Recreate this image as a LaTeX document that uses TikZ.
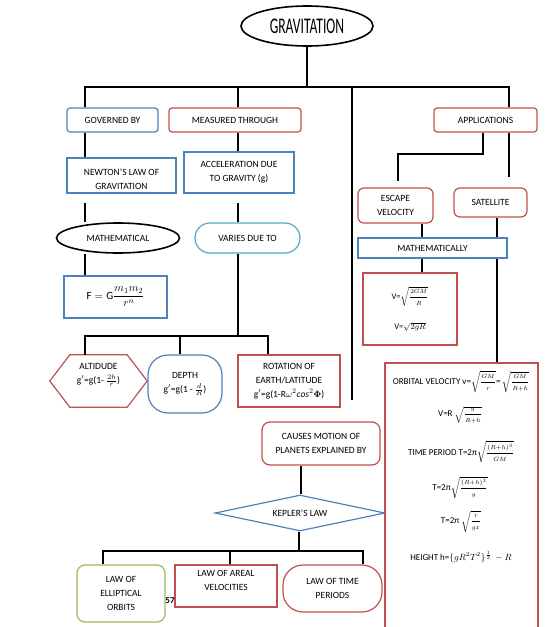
\documentclass[tikz,border=0pt]{standalone}
\usepackage{amsmath}
\usepackage{fontspec}
\setmainfont{Carlito}
\usetikzlibrary{calc,shapes.geometric}
\definecolor{redb}{RGB}{192,80,77}
\definecolor{blueb}{RGB}{79,129,189}
\definecolor{tealb}{RGB}{75,172,198}
\definecolor{greenb}{RGB}{155,187,89}
\newcommand\sfr[2]{\dfrac{\scriptstyle #1}{\scriptstyle #2}}
\begin{document}
\begin{tikzpicture}[x=1pt,y=-1pt,
  conn/.style={line width=2.6pt},
  lbl/.style={font=\fontsize{9.5}{14}\selectfont, align=center, inner sep=1pt},
  box/.style={lbl, draw, line width=1.2pt, fill=white},
  rbox/.style={box, draw=redb},
  bbox/.style={box, draw=blueb},
  oval/.style={lbl, ellipse, draw=black, line width=1.6pt, fill=white, inner sep=0pt},
  frm/.style={font=\fontsize{9}{12}\selectfont, inner sep=1pt},
]
\useasboundingbox (0,0) rectangle (555,627);
\clip (0,0) rectangle (555,627);

% ---------- nodes ----------
\node[oval, minimum width=132pt, minimum height=40pt] (grav) at (307,26)
  {\scalebox{0.97}[1.6]{\fontsize{14}{14}\selectfont GRAVITATION}};
\node[bbox, rounded corners=3pt, minimum width=91pt, minimum height=24pt] (gov) at (112.5,120) {GOVERNED BY};
\node[rbox, rounded corners=3pt, minimum width=132pt, minimum height=24pt] (meas) at (235,120) {MEASURED THROUGH};
\node[rbox, rounded corners=3pt, minimum width=103pt, minimum height=24pt] (app) at (485.5,120) {APPLICATIONS};

\node[bbox, minimum width=109pt, minimum height=35pt] (newton) at (121.5,175.5) {};
\begin{scope}
  \clip (67,158) rectangle (176,190);
  \node[lbl] (newtontxt) at (121.5,179) {NEWTON'S LAW OF\\GRAVITATION};
\end{scope}
\node[bbox, minimum width=110pt, minimum height=41pt] (acc) at (239,172.5) {ACCELERATION DUE\\TO GRAVITY (g)};

\node[oval, minimum width=123pt, minimum height=30pt] (mathe) at (118,238) {MATHEMATICAL};
\node[box, draw=tealb, rounded corners=15pt, minimum width=105pt, minimum height=30pt] (varies) at (247.5,238) {VARIES DUE TO};
\node[bbox, minimum width=103pt, minimum height=42pt] (fbox) at (115.5,297)
  {\fontsize{11}{13}\selectfont $\mathrm{F}=\mathrm{G}\dfrac{m_1m_2}{r^n}$};

% altitude hexagon
\node[minimum width=97pt, minimum height=52pt, inner sep=0pt] (alt) at (98.5,381) {};
\draw[redb, line width=1.2pt, fill=white] (alt.west) -- ([xshift=20pt]alt.north west) -- ([xshift=-20pt]alt.north east)
  -- (alt.east) -- ([xshift=-20pt]alt.south east) -- ([xshift=20pt]alt.south west) -- cycle;
\node[lbl] (alttxt) at (98.5,375) {ALTIDUDE\\g$'$=g(1- $\frac{2h}{r}$)};
\node[bbox, rounded corners=20pt, minimum width=74pt, minimum height=58pt] (depth) at (185,384) {DEPTH\\g$'$=g(1 - $\frac{d}{R}$)};
\node[rbox, minimum width=102pt, minimum height=52pt] (rot) at (289,381)
  {ROTATION OF\\EARTH/LATITUDE\\g$'$=g(1-R$\omega^2\mathit{cos}^2\boldsymbol{\Phi}$)};

\node[rbox, rounded corners=8pt, minimum width=118pt, minimum height=43pt] (causes) at (321,443.5) {CAUSES MOTION OF\\PLANETS EXPLAINED BY};
\node[lbl, diamond, draw=blueb, line width=1.2pt, fill=white, shape aspect=4.7, inner sep=0pt,
  minimum width=170pt, minimum height=36pt] (kep) at (300,513) {KEPLER'S LAW};

\node[font=\bfseries\fontsize{9}{9}\selectfont, inner sep=0pt] (pg) at (170,601) {57};
\node[box, draw=greenb, rounded corners=8pt, minimum width=88pt, minimum height=57pt] (ellb) at (121,593.5) {LAW OF\\ELLIPTICAL\\ORBITS};
\node[rbox, minimum width=102pt, minimum height=42pt] (areal) at (226,586) {LAW OF AREAL\\VELOCITIES\\[-3pt]};
\node[rbox, rounded corners=20pt, minimum width=99pt, minimum height=47pt] (tp) at (332.5,588.5) {LAW OF TIME\\PERIODS};

% applications side
\node[draw=redb, line width=1.2pt, fill=white, minimum width=153pt, minimum height=277pt] (big) at (461.5,501.5) {};
\node[rbox, rounded corners=6pt, minimum width=75pt, minimum height=35pt] (esc) at (395.5,205.5) {ESCAPE\\VELOCITY};
\node[rbox, rounded corners=6pt, minimum width=73pt, minimum height=29pt] (sat) at (490.5,202.5) {SATELLITE};
\coordinate (sx) at (497,248);
\draw[conn] (sat.south -| sx) -- (big.north -| sx);
\node[bbox, minimum width=149pt, minimum height=20pt] (mathly) at (432.5,248) {MATHEMATICALLY};
\node[rbox, minimum width=94pt, minimum height=72pt, font=\fontsize{8.5}{11}\selectfont] (vform) at (410,309)
  {V=$\sqrt{\sfr{2GM}{R}}$\\[15pt]V=$\sqrt{2gR}$};

\node[frm] (t1) at (461,382) {ORBITAL VELOCITY v=$\sqrt{\sfr{GM}{r}}$=\,$\sqrt{\sfr{GM}{R+h}}$};
\node[frm] (t2) at (460,415) {V=R $\sqrt{\sfr{g}{R+h}}$};
\node[frm] (t3) at (461,452) {TIME PERIOD T=2π$\sqrt{\sfr{(R+h)^3}{GM}}$};
\node[frm] (t4) at (460,488) {T=2π$\sqrt{\sfr{(R+h)^3}{g}}$};
\node[frm] (t5) at (461,522) {T=2π $\sqrt{\sfr{r}{gx}}$};
\node[frm] (t6) at (461,557) {HEIGHT h=$\{gR^2T^2\}^{\frac{1}{3}}\,-R$};

% ---------- connectors ----------
\coordinate (bl) at (85,87);
\coordinate (br) at (509,87);
\coordinate (bm) at (238,87);
\coordinate (bx) at (352,87);
\coordinate (bxe) at (352,400);
\draw[conn] (grav.south) -- (grav.south |- bl);
\draw[conn] (gov.north -| bl) -- (bl) -- (br) -- (app.north -| br);
\draw[conn] (bm) -- (meas.north -| bm);
\draw[conn] (bx) -- (bxe);
\draw[conn] (gov.south -| bl) -- (newton.north -| bl);
\draw[conn] (meas.south -| bm) -- (acc.north -| bm);

\coordinate (n1) at (85,203);
\draw[conn] (n1) -- (mathe.north -| n1);
\draw[conn] (mathe.south -| n1) -- (fbox.north -| n1);
\coordinate (a1) at (238,203);
\draw[conn] (a1) -- (varies.north -| a1);
\coordinate (b2m) at (238,336);
\coordinate (b2l) at (85,336);
\coordinate (b2r) at (268,336);
\coordinate (b2d) at (180,336);
\draw[conn] (varies.south -| a1) -- (b2m);
\draw[conn] (alt.north -| b2l) -- (b2l) -- (b2r) -- (rot.north -| b2r);
\draw[conn] (b2d) -- (depth.north -| b2d);

\coordinate (a2) at (483,154);
\coordinate (a3) at (398,154);
\coordinate (a4) at (398,181);
\coordinate (a5) at (509,177);
\draw[conn] (app.south -| a2) -- (a2) -- (a3) -- (a4);
\draw[conn] (app.south -| a5) -- (a5);
\coordinate (ex) at (422,248);
\draw[conn] (esc.south -| ex) -- (mathly.north -| ex);
\draw[conn] (mathly.south -| ex) -- (vform.north -| ex);

\coordinate (cx) at (301,480);
\draw[conn] (causes.south -| cx) -- (kep.north -| cx);
\coordinate (b3m) at (299,551);
\coordinate (b3l) at (103,551);
\coordinate (b3r) at (363,551);
\coordinate (b3a) at (230,551);
\draw[conn] (kep.south -| b3m) -- (b3m);
\draw[conn] (ellb.north -| b3l) -- (b3l) -- (b3r) -- (tp.north -| b3r);
\draw[conn] (b3a) -- (areal.north -| b3a);
\end{tikzpicture}
\end{document}
